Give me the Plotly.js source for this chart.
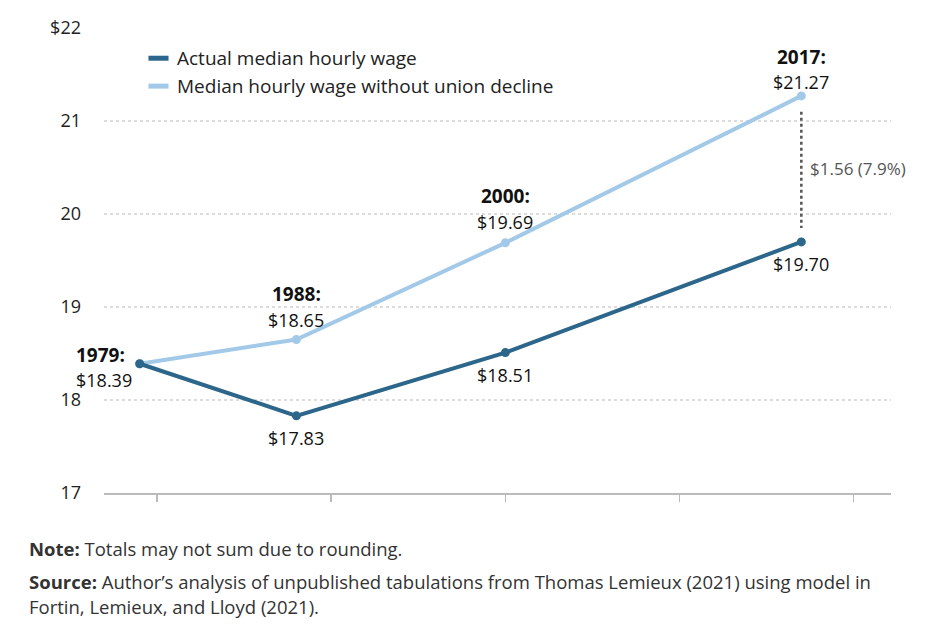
<!DOCTYPE html>
<html>
<head>
<meta charset="utf-8">
<script src="https://cdn.plot.ly/plotly-3.0.1.min.js"></script>
<style>
  html, body { margin: 0; padding: 0; background: #fff; }
  #chart { width: 950px; height: 630px; }
</style>
</head>
<body>
<div id="chart"></div>
<script>
// ---- data ----
const years = [1979, 1988, 2000, 2017];
const actualWage = [18.39, 17.83, 18.51, 19.70];
const counterfactualWage = [18.39, 18.65, 19.69, 21.27];
const seriesNames = ["Actual median hourly wage", "Median hourly wage without union decline"];
const yTickVals = [17, 18, 19, 20, 21, 22];
const yTickText = ["17", "18", "19", "20", "21", "$22"];
const xTickVals = [1980, 1990, 2000, 2010, 2020];
const gapLabel = "$1.56 (7.9%)";
const noteText = "<b>Note:</b> Totals may not sum due to rounding.";
const sourceLines = [
  "<b>Source:</b> Author’s analysis of unpublished tabulations from Thomas Lemieux (2021) using model in",
  "Fortin, Lemieux, and Lloyd (2021)."
];

// ---- style ----
const DARK = "#2c668b";
const LIGHT = "#a3c9e9";
const FONT = "Open Sans, Lato, sans-serif";
const fmt = v => "$" + v.toFixed(2);

const traces = [
  {
    x: years, y: counterfactualWage, name: seriesNames[1], mode: "lines+markers",
    line: {color: LIGHT, width: 4}, marker: {color: LIGHT, size: 9},
    showlegend: false, hoverinfo: "x+y"
  },
  {
    x: years, y: actualWage, name: seriesNames[0], mode: "lines+markers",
    line: {color: DARK, width: 4}, marker: {color: DARK, size: 9},
    showlegend: false, hoverinfo: "x+y"
  }
];

const annotations = [];
const labFont = {family: FONT, size: 18, color: "#111"};
const yearFont = {family: FONT, size: 19, color: "#111"};
// counterfactual (upper) labels: year + value
const upperShift = [null, [46, 20], [47, 21], [39, 14]];
years.forEach((yr, i) => {
  if (i === 0) {
    annotations.push({x: yr, y: counterfactualWage[i], xref: "x", yref: "y", text: "<b>" + yr + ":</b>",
      showarrow: false, xanchor: "left", yanchor: "middle", xshift: -66, yshift: 9, font: yearFont});
    annotations.push({x: yr, y: actualWage[i], xref: "x", yref: "y", text: fmt(actualWage[i]),
      showarrow: false, xanchor: "left", yanchor: "middle", xshift: -66, yshift: -16, font: labFont});
    return;
  }
  annotations.push({x: yr, y: counterfactualWage[i], xref: "x", yref: "y", text: "<b>" + yr + ":</b>",
    showarrow: false, xanchor: "center", yanchor: "middle", yshift: upperShift[i][0], font: yearFont});
  annotations.push({x: yr, y: counterfactualWage[i], xref: "x", yref: "y", text: fmt(counterfactualWage[i]),
    showarrow: false, xanchor: "center", yanchor: "middle", yshift: upperShift[i][1], font: labFont});
  annotations.push({x: yr, y: actualWage[i], xref: "x", yref: "y", text: fmt(actualWage[i]),
    showarrow: false, xanchor: "center", yanchor: "middle", yshift: -22, font: labFont});
});
// gap label
const last = years.length - 1;
annotations.push({x: years[last], y: (counterfactualWage[last] + actualWage[last]) / 2, xref: "x", yref: "y",
  text: gapLabel, showarrow: false, xanchor: "left", yanchor: "middle", xshift: 7,
  font: {family: FONT, size: 17, color: "#555"}});
// legend text
const legY = [0.935, 0.875];
seriesNames.forEach((n, i) => {
  annotations.push({x: 0.0905, y: legY[i], xref: "paper", yref: "paper", text: n, showarrow: false,
    xanchor: "left", yanchor: "middle", font: {family: FONT, size: 19, color: "#222"}});
});
// notes
const noteFont = {family: FONT, size: 18.5, color: "#333"};
annotations.push({x: -0.098, y: -0.119, xref: "paper", yref: "paper", text: noteText, showarrow: false,
  xanchor: "left", yanchor: "middle", font: noteFont});
const srcY = [-0.19, -0.244];
sourceLines.forEach((t, i) => {
  annotations.push({x: -0.098, y: srcY[i], xref: "paper", yref: "paper", text: t, showarrow: false,
    xanchor: "left", yanchor: "middle", font: noteFont});
});

const shapes = [
  // dotted gap line
  {type: "line", xref: "x", yref: "y", x0: years[last], x1: years[last],
   y0: counterfactualWage[last] - 0.17, y1: actualWage[last] + 0.15,
   line: {color: "#555", width: 2.5, dash: "dot"}},
  // legend swatches
  {type: "line", xref: "paper", yref: "paper", x0: 0.0565, x1: 0.082, y0: legY[0], y1: legY[0],
   line: {color: DARK, width: 5}},
  {type: "line", xref: "paper", yref: "paper", x0: 0.0565, x1: 0.082, y0: legY[1], y1: legY[1],
   line: {color: LIGHT, width: 5}}
];

const layout = {
  width: 950, height: 630,
  margin: {l: 103.5, r: 59.3, t: 28, b: 137.3, pad: 0},
  paper_bgcolor: "#fff", plot_bgcolor: "#fff",
  font: {family: FONT, size: 16, color: "#333"},
  xaxis: {
    range: [1976.95, 2022.15], tickvals: xTickVals, ticktext: xTickVals.map(() => ""),
    ticks: "outside", ticklen: 7, tickcolor: "#bbb", tickwidth: 1.5,
    showgrid: false, zeroline: false, showline: true, linecolor: "#bbb", linewidth: 2,
    fixedrange: true
  },
  yaxis: {
    range: [17, 22], tickvals: yTickVals, ticktext: yTickText,
    ticks: "", showline: false, zeroline: false,
    showgrid: true, gridcolor: "#dcdcdc", gridwidth: 2, griddash: "dot",
    ticklabelstandoff: 22, tickfont: {family: FONT, size: 18, color: "#222"},
    fixedrange: true
  },
  showlegend: false,
  annotations: annotations,
  shapes: shapes,
  hovermode: false
};

Plotly.newPlot("chart", traces, layout, {displayModeBar: false, staticPlot: true});
</script>
</body>
</html>
